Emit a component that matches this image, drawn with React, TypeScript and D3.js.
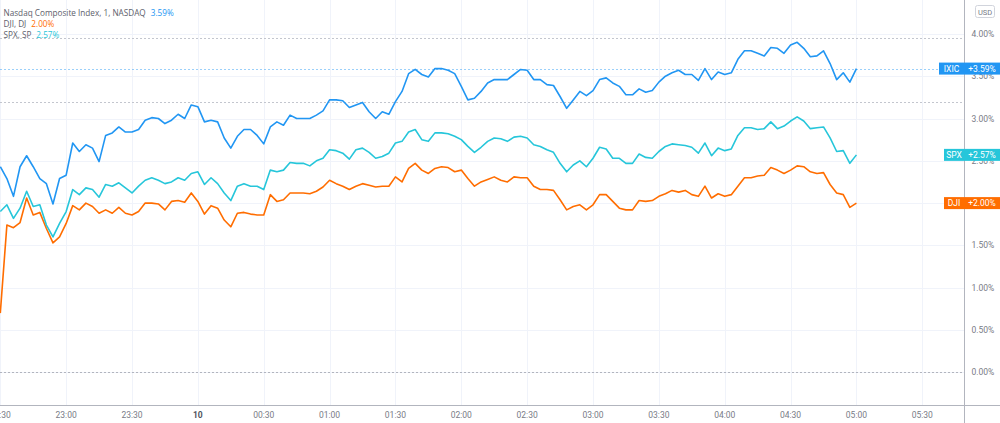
import React from 'react';
import * as d3 from 'd3';

const W = 1000;
const H = 423;
const STEP_MIN = 3; // minutes between samples, starting 22:30

const ixic = [
  2.43, 2.29, 2.08, 2.43, 2.56, 2.43, 2.29, 2.23, 1.99, 2.29, 2.33, 2.71, 2.61, 2.69, 2.65, 2.49, 2.80, 2.83, 2.90, 2.84, 2.84, 2.87, 2.98, 3.01, 3.00, 2.94, 2.98, 3.05, 3.00, 3.16, 3.14, 2.96, 2.98,
  2.96, 2.77, 2.65, 2.79, 2.87, 2.87, 2.80, 2.70, 2.90, 2.96, 2.92, 3.04, 3.00, 3.00, 3.00, 3.04, 3.09, 3.22, 3.22, 3.21, 3.13, 3.16, 3.19, 3.08, 3.00, 3.08, 3.05, 3.20, 3.32, 3.53, 3.58, 3.52, 3.49,
  3.59, 3.59, 3.57, 3.53, 3.38, 3.22, 3.24, 3.32, 3.42, 3.46, 3.46, 3.46, 3.52, 3.58, 3.57, 3.46, 3.46, 3.40, 3.39, 3.26, 3.12, 3.22, 3.32, 3.27, 3.33, 3.46, 3.48, 3.42, 3.38, 3.28, 3.28, 3.35,
  3.31, 3.33, 3.43, 3.50, 3.54, 3.57, 3.52, 3.52, 3.45, 3.59, 3.46, 3.55, 3.52, 3.54, 3.70, 3.80, 3.80, 3.77, 3.74, 3.84, 3.83, 3.77, 3.87, 3.90, 3.83, 3.73, 3.74, 3.80, 3.65, 3.46, 3.54, 3.43, 3.59,
];

const spx = [
  1.90, 1.98, 1.82, 1.94, 2.14, 1.96, 1.98, 1.74, 1.60, 1.76, 1.90, 2.16, 2.10, 2.18, 2.16, 2.07, 2.22, 2.20, 2.24, 2.18, 2.12, 2.20, 2.27, 2.30, 2.27, 2.23, 2.25, 2.30, 2.27, 2.35, 2.37, 2.22, 2.30,
  2.23, 2.12, 2.03, 2.20, 2.23, 2.20, 2.20, 2.16, 2.39, 2.37, 2.39, 2.48, 2.47, 2.47, 2.44, 2.50, 2.53, 2.63, 2.62, 2.59, 2.52, 2.63, 2.65, 2.60, 2.53, 2.55, 2.59, 2.71, 2.73, 2.84, 2.87, 2.75, 2.73,
  2.83, 2.83, 2.82, 2.79, 2.75, 2.67, 2.60, 2.66, 2.73, 2.77, 2.76, 2.73, 2.78, 2.79, 2.77, 2.69, 2.67, 2.63, 2.60, 2.47, 2.37, 2.45, 2.50, 2.43, 2.53, 2.66, 2.64, 2.53, 2.53, 2.47, 2.47, 2.58,
  2.54, 2.53, 2.61, 2.67, 2.70, 2.69, 2.68, 2.66, 2.59, 2.71, 2.56, 2.65, 2.62, 2.64, 2.80, 2.89, 2.89, 2.87, 2.88, 2.96, 2.88, 2.91, 2.97, 3.02, 2.97, 2.88, 2.89, 2.90, 2.77, 2.61, 2.62, 2.47, 2.57,
];

const dji = [
  0.70, 1.74, 1.71, 1.77, 2.06, 1.86, 1.89, 1.70, 1.53, 1.60, 1.76, 1.97, 1.92, 2.00, 1.96, 1.88, 1.92, 1.88, 1.95, 1.88, 1.86, 1.90, 2.00, 2.00, 1.99, 1.92, 2.02, 2.03, 2.01, 2.12, 2.02, 1.87, 1.97,
  1.94, 1.80, 1.72, 1.88, 1.89, 1.87, 1.86, 1.86, 2.10, 2.02, 2.04, 2.12, 2.12, 2.12, 2.11, 2.14, 2.19, 2.27, 2.23, 2.20, 2.16, 2.20, 2.23, 2.21, 2.19, 2.20, 2.20, 2.31, 2.25, 2.41, 2.47, 2.39, 2.35,
  2.41, 2.43, 2.42, 2.37, 2.39, 2.29, 2.20, 2.25, 2.28, 2.31, 2.27, 2.25, 2.31, 2.30, 2.30, 2.20, 2.16, 2.16, 2.15, 2.04, 1.92, 1.96, 1.98, 1.92, 1.98, 2.10, 2.10, 2.02, 1.94, 1.92, 1.92, 2.03,
  2.02, 2.03, 2.08, 2.11, 2.15, 2.13, 2.15, 2.10, 2.08, 2.20, 2.06, 2.11, 2.08, 2.10, 2.20, 2.30, 2.30, 2.32, 2.33, 2.42, 2.39, 2.35, 2.39, 2.44, 2.43, 2.37, 2.35, 2.36, 2.22, 2.12, 2.10, 1.95, 2.00,
];

const timeLabels = ['22:30', '23:00', '23:30', '10', '00:30', '01:00', '01:30', '02:00', '02:30', '03:00', '03:30', '04:00', '04:30', '05:00', '05:30'];
const timeLabelMinutes = [0, 30, 60, 90, 120, 150, 180, 210, 240, 270, 300, 330, 360, 390, 420];
const yTicks = [0, 0.5, 1, 1.5, 2, 2.5, 3, 3.5, 4];
const refLevels = [3.95, 3.19];

const seriesNames = ['Nasdaq Composite Index, 1, NASDAQ', 'DJI, DJ', 'SPX, SP'];
const seriesTags = ['IXIC', 'DJI', 'SPX'];
const seriesColors = ['#2196f3', '#ff6d00', '#26c6da'];
const seriesData = [ixic, dji, spx];

const FONT = 'Roboto, "Noto Sans", sans-serif';
const LEGEND_FONT = '"Open Sans", Roboto, sans-serif';

export default function App() {
  const plotRight = 964;
  const plotBottom = 405;
  const x = d3.scaleLinear().domain([0, 439]).range([0.3, plotRight]);
  const y = d3.scaleLinear().domain([0, 4]).range([372.3, 33.9]);
  const line = d3
    .line<number>()
    .x((_, i) => x(i * STEP_MIN))
    .y((d) => y(d));

  const lastVals = seriesData.map((s) => s[s.length - 1]);
  const fmt = (v: number) => v.toFixed(2) + '%';
  const hiddenByTag = (v: number) => lastVals.some((lv) => Math.abs(y(v) - y(lv)) < 2);

  return (
    <svg
      width={W}
      height={H}
      style={{ position: 'absolute', left: 0, top: 0, background: '#fff', fontFamily: FONT }}
    >
      <defs>
        <clipPath id="plot">
          <rect x={0} y={0} width={plotRight} height={plotBottom} />
        </clipPath>
      </defs>
      <rect x={0} y={0} width={W} height={H} fill="#fff" />
      {/* grid */}
      <g>
        {timeLabelMinutes.map((m) => (
          <line key={'vg' + m} x1={Math.round(x(m)) + 0.5} x2={Math.round(x(m)) + 0.5} y1={0} y2={plotBottom} stroke="#f0f3fa" />
        ))}
        {yTicks.map((v) => (
          <line key={'hg' + v} x1={0} x2={plotRight} y1={Math.round(y(v)) + 0.5} y2={Math.round(y(v)) + 0.5} stroke="#f0f3fa" />
        ))}
      </g>
      {/* reference dotted lines */}
      {refLevels.map((v) => (
        <line key={'ref' + v} x1={0} x2={plotRight} y1={Math.round(y(v)) + 0.5} y2={Math.round(y(v)) + 0.5} stroke="#c3c6ce" strokeDasharray="2 2" />
      ))}
      <line x1={0} x2={plotRight} y1={Math.round(y(0)) + 0.5} y2={Math.round(y(0)) + 0.5} stroke="#b2b5be" strokeDasharray="2 2" />
      <line x1={0} x2={940} y1={Math.round(y(lastVals[0])) + 0.5} y2={Math.round(y(lastVals[0])) + 0.5} stroke={seriesColors[0]} strokeOpacity={0.45} strokeDasharray="2 2" />
      {/* series lines */}
      <g clipPath="url(#plot)">
        {[1, 2, 0].map((i) => (
          <path key={'ln' + i} d={line(seriesData[i]) || ''} fill="none" stroke={seriesColors[i]} strokeWidth={1.6} strokeLinejoin="round" />
        ))}
      </g>
      {/* axes */}
      <line x1={0} x2={W} y1={plotBottom + 0.5} y2={plotBottom + 0.5} stroke="#b2b5be" />
      <line x1={plotRight + 0.5} x2={plotRight + 0.5} y1={0} y2={H} stroke="#b2b5be" />
      {timeLabels.map((t, i) => (
        <text
          key={'tl' + i}
          x={x(timeLabelMinutes[i])}
          y={418}
          textAnchor="middle"
          fontSize={8.5}
          fill={t === '10' ? '#50535e' : '#787b86'}
          fontWeight={t === '10' ? 700 : 400}
        >
          {t}
        </text>
      ))}
      {yTicks.filter((v) => !hiddenByTag(v)).map((v) => (
        <text key={'yl' + v} x={971.5} y={y(v) + 3} fontSize={8.5} fill="#787b86">
          {fmt(v)}
        </text>
      ))}
      {/* USD box */}
      <rect x={975.5} y={5.5} width={19} height={12} rx={2} fill="#fff" stroke="#d1d4dc" />
      <text x={985} y={14.5} textAnchor="middle" fontSize={7.5} fill="#787b86">USD</text>
      {/* last value tags */}
      {seriesData.map((s, i) => {
        const yy = y(lastVals[i]);
        const nameW = seriesTags[i].length * 5 + 5;
        return (
          <g key={'tag' + i}>
            <rect x={plotRight - nameW} y={yy - 6} width={nameW} height={12} fill={seriesColors[i]} />
            <text x={plotRight - nameW / 2} y={yy + 3} textAnchor="middle" fontSize={8.5} fill="#fff">
              {seriesTags[i]}
            </text>
            <rect x={plotRight} y={yy - 6} width={W - plotRight} height={12} fill={seriesColors[i]} />
            <text x={982} y={yy + 3} textAnchor="middle" fontSize={8.5} fill="#fff">
              {'+' + fmt(lastVals[i])}
            </text>
          </g>
        );
      })}
      {/* legend */}
      {seriesNames.map((n, i) => (
        <text key={'lg' + i} x={3.5} y={15.5 + i * 11.3} fontSize={8.2} fill="#5d606b" fontFamily={LEGEND_FONT}>
          {n}
          <tspan dx={5} fill={seriesColors[i]}>{fmt(lastVals[i])}</tspan>
        </text>
      ))}
    </svg>
  );
}
